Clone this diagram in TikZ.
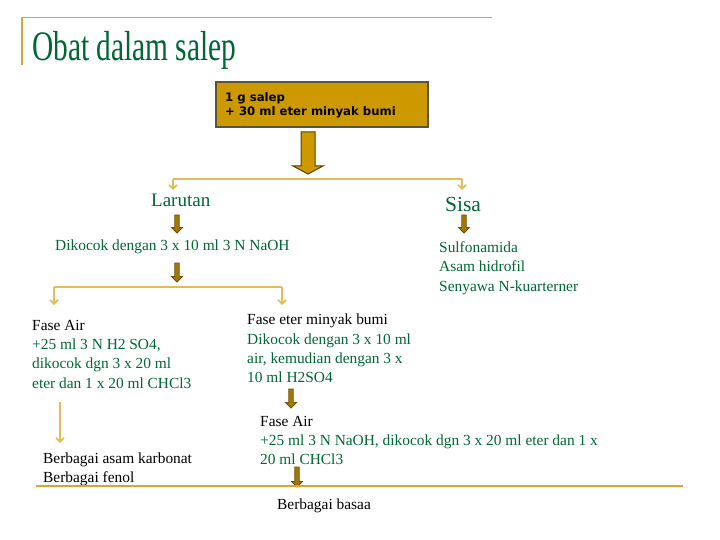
\documentclass[tikz,border=0pt]{standalone}
\usepackage{fontspec}
\usepackage{graphicx}
\setmainfont{Liberation Serif}
\newfontfamily\boxfont{DejaVu Sans}
\usetikzlibrary{arrows.meta}
\definecolor{ttlgreen}{RGB}{0,102,51}
\definecolor{rulegold}{RGB}{210,168,50}
\definecolor{conngold}{RGB}{226,188,86}
\definecolor{boxgold}{RGB}{204,153,0}
\definecolor{boxedge}{RGB}{90,84,60}
\definecolor{arrfill}{RGB}{160,120,10}
\definecolor{arredge}{RGB}{110,80,0}
\newcommand\blockdown[3]{%
  \filldraw[smallarr] ({#1-2.2},#2) -- ({#1+2.2},#2) -- ({#1+2.2},{#3-5.5}) -- ({#1+5.5},{#3-5.5}) -- (#1,#3) -- ({#1-5.5},{#3-5.5}) -- ({#1-2.2},{#3-5.5}) -- cycle;}
\begin{document}
\begin{tikzpicture}[x=1pt,y=-1pt,
  txt/.style={anchor=base west, inner sep=0pt, font=\fontsize{15.4}{19}\selectfont},
  grn/.style={txt, text=ttlgreen},
  blk/.style={txt, text=black},
  boxtxt/.style={anchor=base west, inner sep=0pt, font=\boxfont\bfseries\fontsize{11.7}{14}\selectfont},
  smallarr/.style={fill=arrfill, draw=arredge, line width=0.8pt},
  conn/.style={draw=conngold, line width=1.6pt, -{Straight Barb[length=4pt,width=8pt,line width=1.6pt]}},
  connplain/.style={draw=conngold, line width=1.6pt},
  rule/.style={draw=rulegold, line width=1.8pt}]
\useasboundingbox (0,0) rectangle (720,540);
% title rules
\draw[rule] (22,65) -- (22,17.5) -- (492,17.5);
\node[anchor=base west, inner sep=0pt, text=ttlgreen] (title) at (32,61)
  {\fontsize{42}{42}\selectfont\scalebox{0.7}[1]{Obat dalam salep}};
% top box
\node[draw=boxedge, fill=boxgold, line width=2pt, minimum width=212pt, minimum height=45pt, inner sep=0pt] (box) at (321.5,104.5) {};
\node[boxtxt] (b1) at (225,102) {1 g salep};
\node[boxtxt] (b2) at (225,116) {+ 30 ml eter minyak bumi};
% big arrow
\filldraw[fill=boxgold, draw=arredge!80!black, line width=1pt]
  (301,132) -- (315,132) -- (315,166) -- (323,166) -- (308,174) -- (293,166) -- (301,166) -- cycle;
% split to Larutan / Sisa
\coordinate (tl) at (173,179);
\coordinate (tr) at (462,179);
\coordinate (tla) at (173,190);
\coordinate (tra) at (462,190);
\draw[connplain] (tl) -- (tr);
\draw[conn] (tl) -- (tla);
\draw[conn] (tr) -- (tra);
\node[txt, text=ttlgreen, font=\fontsize{19}{19}\selectfont] (larutan) at (151,207) {Larutan};
\node[txt, text=ttlgreen, font=\fontsize{21.5}{21.5}\selectfont] (sisa) at (445,211.5) {Sisa};
\blockdown{177}{215}{233}
\blockdown{464}{215}{233}
\node[grn] (dik) at (55,251) {Dikocok dengan 3 x 10 ml 3 N NaOH};
\blockdown{177}{263}{282}
% Sisa list
\node[grn] (s1) at (439,252) {Sulfonamida};
\node[grn] (s2) at (439,271.5) {Asam hidrofil};
\node[grn] (s3) at (439,291) {Senyawa N-kuarterner};
% second split
\coordinate (ml) at (54,287);
\coordinate (mr) at (282,287);
\coordinate (mla) at (54,305);
\coordinate (mra) at (282,305);
\draw[connplain] (ml) -- (mr);
\draw[conn] (ml) -- (mla);
\draw[conn] (mr) -- (mra);
% left block
\node[blk] (fa1) at (32,330) {Fase Air};
\node[grn] (fa2) at (32,349) {+25 ml 3 N H2 SO4,};
\node[grn] (fa3) at (32,368.5) {dikocok dgn 3 x 20 ml};
\node[grn] (fa4) at (32,388) {eter dan 1 x 20 ml CHCl3};
\coordinate (lt) at (60,402);
\coordinate (lb) at (60,443);
\draw[conn] (lt) -- (lb);
\node[blk] (ba1) at (43,463) {Berbagai asam karbonat};
\node[blk] (ba2) at (43,482) {Berbagai fenol};
% right block
\node[blk] (fe1) at (247,324) {Fase eter minyak bumi};
\node[grn] (fe2) at (247,344) {Dikocok dengan 3 x 10 ml};
\node[grn] (fe3) at (247,363) {air, kemudian dengan 3 x};
\node[grn] (fe4) at (247,382) {10 ml H2SO4};
\blockdown{291}{389}{408}
\node[blk] (fb1) at (260,426) {Fase Air};
\node[grn] (fb2) at (260,445) {+25 ml 3 N NaOH, dikocok dgn 3 x 20 ml eter dan 1 x};
\node[grn] (fb3) at (260,464) {20 ml CHCl3};
\blockdown{297}{467}{487}
% bottom rule
\draw[rule] (36,486) -- (683,486);
\node[blk] (basa) at (277,509) {Berbagai basaa};
\end{tikzpicture}
\end{document}
